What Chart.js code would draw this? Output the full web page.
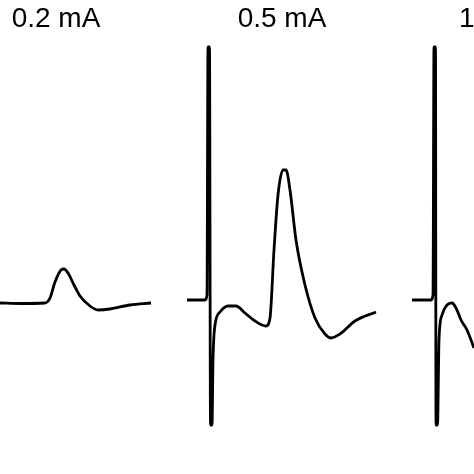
<!DOCTYPE html>
<html lang="en">
<head>
<meta charset="UTF-8">
<title>Stimulus responses</title>
<style>
    body { margin: 0; background: #fff; }
    canvas { display: block; }
</style>
</head>
<body>
<canvas id="traces" width="474" height="474"></canvas>
<script src="https://cdn.jsdelivr.net/npm/chart.js"></script>
<script>
// stimulus labels
const labels = ['0.2 mA', '0.5 mA', '1 mA'];

// time (ms, shared axis) and response amplitude (mV) per trace
const t02 = [0, 2.0, 4.5, 5.0, 5.5, 6.1, 6.4, 6.8, 7.4, 8.0, 9.0, 9.8, 11.0, 13.0, 15.1];
const v02 = [-0.01, -0.015, -0.01, 0.04, 0.2, 0.32, 0.33, 0.29, 0.17, 0.06, -0.04, -0.08, -0.07, -0.03, -0.01];

const t05 = [18.7, 20.5, 20.7, 20.8, 20.95, 21.05, 21.2, 21.3, 21.5, 22.0, 22.8, 23.6, 24.5, 25.5, 26.6, 27.0, 27.4, 27.8, 28.3, 28.6, 29.0, 29.6, 30.5, 31.5, 32.5, 33.1, 34.0, 35.5, 37.6];
const v05 = [0.02, 0.02, 0.07, 2.55, 2.55, -1.23, -1.23, -0.58, -0.23, -0.1, -0.04, -0.04, -0.11, -0.19, -0.24, -0.16, 0.52, 1.07, 1.32, 1.32, 1.12, 0.62, 0.17, -0.16, -0.32, -0.36, -0.32, -0.19, -0.1];

const t10 = [41.2, 43.1, 43.3, 43.4, 43.55, 43.6, 43.75, 43.9, 44.2, 44.7, 45.2, 45.6, 46.1, 46.7, 47.4];
const v10 = [0.02, 0.02, 0.07, 2.55, 2.55, -1.23, -1.23, -0.38, -0.13, -0.03, -0.01, -0.06, -0.18, -0.28, -0.46];

function pts(t, v) { return t.map((x, i) => ({ x: x, y: v[i] })); }

const labelPlugin = {
    id: 'stimLabels',
    afterDraw(chart) {
        const c = chart.ctx;
        const xs = chart.scales.x;
        c.save();
        c.fillStyle = '#000';
        c.font = '28px Arial, "Liberation Sans", sans-serif';
        c.textBaseline = 'middle';
        c.textAlign = 'center';
        c.fillText(labels[0], xs.getPixelForValue(5.6), 19);
        c.fillText(labels[1], xs.getPixelForValue(28.2), 19);
        c.textAlign = 'left';
        c.fillText(labels[2], xs.getPixelForValue(45.9), 19);
        c.restore();
    }
};

const ds = (d) => ({ data: d, borderColor: '#000', borderWidth: 2.8, pointRadius: 0, cubicInterpolationMode: 'monotone', fill: false });

new Chart(document.getElementById('traces'), {
    type: 'line',
    data: { datasets: [ds(pts(t02, v02)), ds(pts(t05, v05)), ds(pts(t10, v10))] },
    options: {
        responsive: false,
        animation: false,
        layout: { padding: 0 },
        plugins: { legend: { display: false }, tooltip: { enabled: false } },
        scales: {
            x: { type: 'linear', min: 0, max: 47.4, display: false },
            y: { min: -1.72, max: 3.02, display: false }
        }
    },
    plugins: [labelPlugin]
});
</script>
</body>
</html>
